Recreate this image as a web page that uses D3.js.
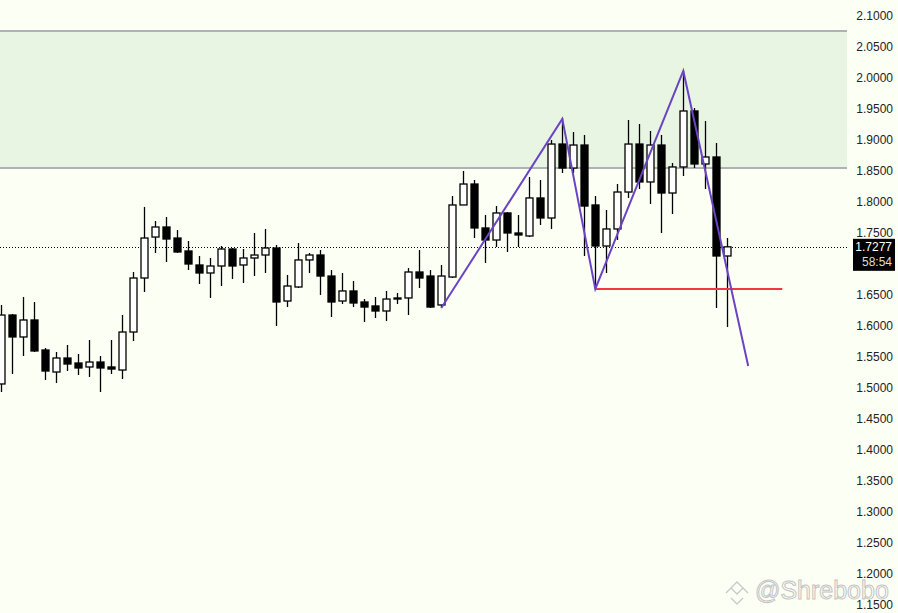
<!DOCTYPE html>
<html>
<head>
<meta charset="utf-8">
<script src="https://cdn.jsdelivr.net/npm/d3@7"></script>
<style>
  html, body { margin: 0; padding: 0; background: #fcfff4; }
  svg { display: block; font-family: "Liberation Sans", Arial, sans-serif; }
</style>
</head>
<body>
<div id="chart"></div>
<script>
// daily candles, oldest first
const opens  = [1.5065,1.6177,1.5823,1.6097,1.5613,1.5258,1.5484,1.5403,1.5339,1.5419,1.5339,1.5290,1.5903,1.6774,1.7435,1.7597,1.7419,1.7210,1.6984,1.6855,1.6968,1.7242,1.6984,1.7097,1.7145,1.7258,1.6403,1.6629,1.7065,1.7145,1.6806,1.6403,1.6565,1.6387,1.6323,1.6242,1.6452,1.6452,1.6871,1.6806,1.6339,1.6790,1.7952,1.8290,1.7581,1.7387,1.7823,1.7500,1.7452,1.8065,1.7742,1.8935,1.8548,1.8919,1.7952,1.7290,1.7565,1.8161,1.8935,1.8323,1.8919,1.8145,1.8565,1.9468,1.8613,1.8726,1.7129];
const highs  = [1.6339,1.6194,1.6468,1.6387,1.5645,1.5581,1.5694,1.5548,1.5774,1.5516,1.5774,1.6177,1.6871,1.7919,1.7694,1.7758,1.7548,1.7371,1.7129,1.7097,1.7290,1.7258,1.7242,1.7500,1.7565,1.7306,1.6823,1.7339,1.7177,1.7226,1.6903,1.6855,1.6726,1.6435,1.6468,1.6565,1.6532,1.6935,1.7226,1.6903,1.6984,1.8097,1.8500,1.8355,1.7790,1.7935,1.7839,1.7790,1.8403,1.8355,1.9000,1.9355,1.9129,1.9081,1.8097,1.7871,1.8290,1.9323,1.9258,1.9145,1.9081,1.8629,2.0113,1.9516,1.9306,1.8952,1.7419];
const lows   = [1.4935,1.5226,1.5516,1.5581,1.5129,1.5081,1.5274,1.5210,1.5177,1.4935,1.5226,1.5145,1.5758,1.6548,1.7177,1.7032,1.7177,1.6903,1.6677,1.6452,1.6645,1.6758,1.6694,1.6806,1.6855,1.6000,1.6306,1.6613,1.6855,1.6500,1.6145,1.6355,1.6306,1.6065,1.6129,1.6081,1.6355,1.6177,1.6613,1.6290,1.6290,1.6774,1.7952,1.7419,1.7016,1.7274,1.7194,1.7274,1.7435,1.7629,1.7565,1.8468,1.8468,1.7129,1.6581,1.6855,1.7387,1.8065,1.8210,1.7968,1.7500,1.7806,1.8419,1.8548,1.8210,1.6290,1.5984];
const closes = [1.6177,1.5823,1.6097,1.5597,1.5274,1.5484,1.5387,1.5323,1.5419,1.5323,1.5306,1.5903,1.6774,1.7419,1.7597,1.7403,1.7194,1.7000,1.6855,1.6968,1.7242,1.6968,1.7097,1.7145,1.7258,1.6387,1.6645,1.7065,1.7145,1.6806,1.6387,1.6565,1.6371,1.6306,1.6242,1.6435,1.6435,1.6871,1.6774,1.6306,1.6806,1.7952,1.8290,1.7581,1.7387,1.7823,1.7500,1.7468,1.8065,1.7742,1.8935,1.8548,1.8919,1.7935,1.7290,1.7565,1.8161,1.8935,1.8323,1.8919,1.8145,1.8565,1.9468,1.8613,1.8726,1.7129,1.7277];

// price axis labels
const tickValues = [2.10,2.05,2.00,1.95,1.90,1.85,1.80,1.75,1.65,1.60,1.55,1.50,1.45,1.40,1.35,1.30,1.25,1.20,1.15];

// drawings
const zoneTop = 2.0758, zoneBottom = 1.855;
const supportLevel = 1.6597, supportFrom = 54, supportTo = 71;
const zigzagIdx    = [40, 51, 54, 62, 67.9];
const zigzagPrice  = [1.6290, 1.9340, 1.6597, 2.0113, 1.5355];
const lastPrice = 1.7277, countdown = "58:54";

const W = 898, H = 613, plotRight = 847;

const bg = "#fcfff4";
const zoneColor = "#e8f5e2";
const edgeColor = "#aeb2b5";
const purple = "#6a44c2";
const red = "#f23645";

const candles = opens.map((o, i) => ({ i, o, h: highs[i], l: lows[i], c: closes[i] }));

const x = d3.scaleLinear().domain([0, 66]).range([1.3, 727.3]);
const y = d3.scaleLinear().domain([1.15, 2.1]).range([605, 16]);

const svg = d3.select("#chart").append("svg")
  .attr("width", W).attr("height", H);

svg.append("rect").attr("width", W).attr("height", H).attr("fill", bg);

// supply zone
svg.append("rect")
  .attr("x", 0).attr("width", plotRight)
  .attr("y", y(zoneTop)).attr("height", y(zoneBottom) - y(zoneTop))
  .attr("fill", zoneColor);
[zoneTop, zoneBottom].forEach(v => {
  svg.append("line")
    .attr("x1", 0).attr("x2", plotRight)
    .attr("y1", y(v)).attr("y2", y(v))
    .attr("stroke", edgeColor).attr("stroke-width", 2);
});

// current price dotted line
svg.append("line")
  .attr("x1", 0).attr("x2", plotRight)
  .attr("y1", Math.round(y(lastPrice)) + 0.5).attr("y2", Math.round(y(lastPrice)) + 0.5)
  .attr("stroke", "#000").attr("stroke-width", 1)
  .attr("stroke-dasharray", "1,2");

// candles
const bodyW = 7;
const g = svg.append("g");
const cg = g.selectAll("g.candle").data(candles).enter().append("g").attr("class", "candle");

cg.append("line")
  .attr("x1", d => Math.round(x(d.i)) + 0.5).attr("x2", d => Math.round(x(d.i)) + 0.5)
  .attr("y1", d => y(d.h)).attr("y2", d => y(d.l))
  .attr("stroke", "#000").attr("stroke-width", 1.3);

cg.append("rect")
  .attr("x", d => Math.round(x(d.i)) + 0.5 - bodyW / 2)
  .attr("width", bodyW)
  .attr("y", d => y(Math.max(d.o, d.c)))
  .attr("height", d => Math.max(1, Math.abs(y(d.o) - y(d.c))))
  .attr("fill", d => d.c >= d.o ? "#fff" : "#000")
  .attr("stroke", "#000").attr("stroke-width", 1.3);

// support line
svg.append("line")
  .attr("x1", x(supportFrom)).attr("x2", x(supportTo))
  .attr("y1", y(supportLevel)).attr("y2", y(supportLevel))
  .attr("stroke", red).attr("stroke-width", 2);

// zigzag pattern
const zz = zigzagIdx.map((v, k) => [x(v), y(zigzagPrice[k])]);
svg.append("path")
  .attr("d", d3.line()(zz))
  .attr("fill", "none")
  .attr("stroke", purple).attr("stroke-width", 2)
  .attr("stroke-linejoin", "miter");

// price scale labels
svg.append("g").selectAll("text").data(tickValues).enter().append("text")
  .attr("x", 893).attr("y", d => y(d))
  .attr("dy", "0.36em")
  .attr("text-anchor", "end")
  .attr("font-size", 12)
  .attr("fill", "#222")
  .text(d => d.toFixed(4));

// last price tag
const tagY = y(lastPrice);
svg.append("rect")
  .attr("x", 853).attr("y", tagY - 8).attr("width", 42).attr("height", 32)
  .attr("fill", "#000");
svg.append("text")
  .attr("x", 892).attr("y", tagY).attr("dy", "0.36em")
  .attr("text-anchor", "end").attr("font-size", 12).attr("fill", "#fff")
  .text(lastPrice.toFixed(4));
svg.append("text")
  .attr("x", 892).attr("y", tagY + 15).attr("dy", "0.36em")
  .attr("text-anchor", "end").attr("font-size", 12).attr("fill", "#ddd")
  .text(countdown);

// watermark
const wm = svg.append("g").attr("opacity", 0.9);
wm.append("path")
  .attr("d", "M731,588 L737,582 L743,588 M726,593 L731,588 L737,594 L743,588 L748,593 M731,598 L737,604 L743,598")
  .attr("fill", "none").attr("stroke", "#c4c4c4").attr("stroke-width", 1.3);
wm.append("text")
  .attr("x", 755).attr("y", 599)
  .attr("font-size", 25)
  .attr("fill", "#ffffff").attr("stroke", "#bdbdbd").attr("stroke-width", 1)
  .text("@Shrebobo");
</script>
</body>
</html>
